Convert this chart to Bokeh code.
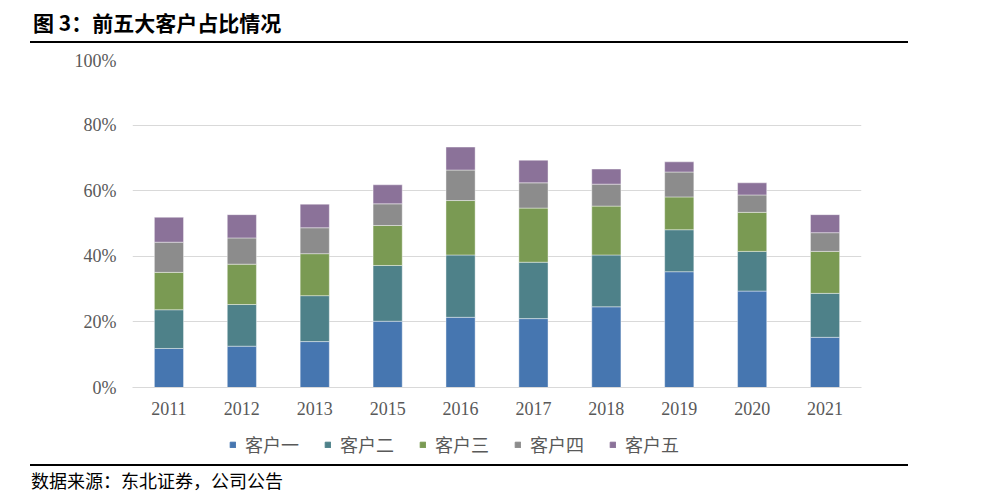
from bokeh.plotting import figure
from bokeh.layouts import column
from bokeh.models import (Legend, LegendItem, NumeralTickFormatter, FixedTicker,
                          FactorRange, Range1d, Div)
from bokeh.embed import file_html
from bokeh.resources import INLINE

years = ["2011", "2012", "2013", "2015", "2016", "2017", "2018", "2019", "2020", "2021"]
series_names = ["客户一", "客户二", "客户三", "客户四", "客户五"]
c1 = [0.119, 0.126, 0.140, 0.202, 0.214, 0.210, 0.246, 0.353, 0.294, 0.153]
c2 = [0.118, 0.127, 0.140, 0.170, 0.190, 0.172, 0.158, 0.128, 0.121, 0.134]
c3 = [0.114, 0.123, 0.128, 0.122, 0.166, 0.165, 0.149, 0.100, 0.119, 0.128]
c4 = [0.092, 0.080, 0.079, 0.066, 0.093, 0.077, 0.067, 0.076, 0.053, 0.057]
c5 = [0.076, 0.071, 0.072, 0.058, 0.070, 0.069, 0.046, 0.031, 0.037, 0.055]
y_ticks = [0, 0.2, 0.4, 0.6, 0.8, 1.0]
title_text = "图 3：前五大客户占比情况"
source_text = "数据来源：东北证券，公司公告"
colors = ["#4676B0", "#4E8189", "#7A9A53", "#8C8C8C", "#8B7299"]

keys = ["c1", "c2", "c3", "c4", "c5"]
data = dict(years=years, c1=c1, c2=c2, c3=c3, c4=c4, c5=c5)

tick_color = "#595959"
serif = "Liberation Serif"
cjk = "Noto Sans CJK SC"
W = 984
FL, FW, FH = 132, 729, 328

# ---- top: title and rule
top = Div(width=W, height=50, margin=0, text=(
    '<div style="margin:0 0 0 30px;width:878px;height:43px;box-sizing:border-box;'
    'border-bottom:2px solid #000;padding:8px 0 0 3px;'
    "font-family:'Noto Sans CJK SC';font-weight:bold;font-size:21px;line-height:28px;"
    'color:#000;white-space:nowrap;">' + title_text + '</div>'))

# ---- main chart
p = figure(x_range=FactorRange(*years, range_padding=0), y_range=Range1d(0, 1.0),
           frame_width=FW, frame_height=FH,
           min_border_left=FL, min_border_right=W - FL - FW, min_border_top=9,
           min_border_bottom=33,
           output_backend="svg", toolbar_location=None, outline_line_color=None,
           background_fill_color="white", border_fill_color="white")

rs = p.vbar_stack(keys, x="years", width=0.4, color=colors, source=data,
                  line_color="white", line_width=0.6, line_alpha=0.7)

p.yaxis.ticker = FixedTicker(ticks=y_ticks)
p.yaxis.formatter = NumeralTickFormatter(format="0%")
p.yaxis.axis_line_color = None
p.yaxis.major_tick_line_color = None
p.yaxis.minor_tick_line_color = None
p.yaxis.major_label_text_font = serif
p.yaxis.major_label_text_font_size = "18px"
p.yaxis.major_label_text_color = tick_color
p.yaxis.major_label_standoff = 10

p.xaxis.axis_line_color = "#d9d9d9"
p.xaxis.major_tick_line_color = None
p.xaxis.minor_tick_line_color = None
p.xaxis.major_label_text_font = serif
p.xaxis.major_label_text_font_size = "18px"
p.xaxis.major_label_text_color = tick_color
p.xaxis.major_label_standoff = 8

p.xgrid.grid_line_color = None
p.ygrid.grid_line_color = "#d9d9d9"
p.ygrid.ticker = FixedTicker(ticks=y_ticks)

# ---- legend strip (same frame geometry as the chart)
LH = 38
lg = figure(x_range=Range1d(0, 1), y_range=Range1d(0, 1), frame_width=FW, frame_height=LH,
            min_border_left=FL, min_border_right=W - FL - FW, min_border_top=0,
            min_border_bottom=0, output_backend="svg", toolbar_location=None,
            outline_line_color=None, background_fill_color="white", border_fill_color="white")
lg.axis.visible = False
lg.grid.visible = False
# legend-only swatches: one point placed outside the visible range
dummies = [lg.vbar(x=[-5], top=[-5], bottom=[-6], width=0.5, fill_color=c, line_color=c)
           for c in colors]
legend = Legend(items=[LegendItem(label=n, renderers=[r]) for n, r in zip(series_names, dummies)],
                orientation="horizontal", location=(97, 1),
                glyph_width=7, glyph_height=7, label_standoff=9, spacing=25,
                padding=0, margin=0, border_line_color=None, background_fill_alpha=0,
                label_text_font=cjk, label_text_font_size="18px", label_text_color=tick_color,
                label_height=20)
lg.add_layout(legend, "center")

# ---- bottom: rule and source
bot = Div(width=W, height=36, margin=0, text=(
    '<div style="margin:6px 0 0 30px;width:878px;box-sizing:border-box;'
    'border-top:2px solid #000;padding:0 0 0 1px;'
    "font-family:'Noto Sans CJK SC';font-size:18px;line-height:28px;"
    'color:#000;white-space:nowrap;">' + source_text + '</div>'))

layout = column(top, p, lg, bot, spacing=0)
open("out.html", "w").write(file_html(layout, INLINE))
